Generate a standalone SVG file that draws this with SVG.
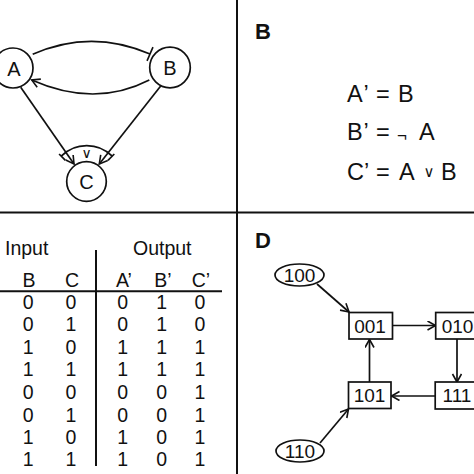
<svg xmlns="http://www.w3.org/2000/svg" width="474" height="474" viewBox="0 0 474 474">
<defs>
<marker id="arr" markerUnits="userSpaceOnUse" markerWidth="12" markerHeight="12" refX="9" refY="5" orient="auto">
<path d="M1,0.5 L9,5 L1,9.5" fill="none" stroke="#111" stroke-width="1.6"/>
</marker>
<marker id="bar" markerUnits="userSpaceOnUse" markerWidth="4" markerHeight="16" refX="2" refY="8" orient="auto">
<path d="M2,0.5 L2,15.5" fill="none" stroke="#111" stroke-width="1.6"/>
</marker>
<style>
text{font-family:"Liberation Sans",Arial,sans-serif;fill:#111}
.node{fill:#fff;stroke:#111;stroke-width:1.7}
.lbl{font-size:20px;text-anchor:middle}
.bx{font-size:19px;text-anchor:middle}
.eq{font-size:23.5px}
.tab{font-size:19.5px;text-anchor:middle}
.pl{font-size:22px;font-weight:bold}
.edge{fill:none;stroke:#111;stroke-width:1.7}
.grid{stroke:#111;stroke-width:2}
.sym{font-family:"DejaVu Sans",sans-serif;text-anchor:middle}
</style>
</defs>
<rect width="474" height="474" fill="#fff"/>
<g id="grid">
<line class="grid" x1="237" y1="0" x2="237" y2="474"/>
<line class="grid" x1="0" y1="212.5" x2="474" y2="212.5"/>
</g>
<g id="connectors">
<path class="edge" d="M32.7,54.3 Q91,28.5 150,54" marker-end="url(#bar)"/>
<path class="edge" d="M149.3,80 Q95,108 31.7,80" marker-end="url(#arr)"/>
<path class="edge" d="M20.7,87.3 L74,164" marker-end="url(#arr)"/>
<path class="edge" d="M160.7,86 L99.3,164" marker-end="url(#arr)"/>
<path class="edge" d="M61.2,156.2 A36,36 0 0 1 112.2,156.2"/>
<path class="edge" d="M59.1,154.0 L65.4,160.3"/>
<path class="edge" d="M114.3,154.0 L108.0,160.3"/>
<path class="edge" d="M317,284 L349,312" marker-end="url(#arr)"/>
<path class="edge" d="M392.5,325.5 L435.5,325.5" marker-end="url(#arr)"/>
<path class="edge" d="M457,339 L457,382" marker-end="url(#arr)"/>
<path class="edge" d="M435,396 L391.5,396" marker-end="url(#arr)"/>
<path class="edge" d="M369.5,382 L369.5,339.5" marker-end="url(#arr)"/>
<path class="edge" d="M320,443 L348.5,409" marker-end="url(#arr)"/>
</g>
<text class="sym" x="86.7" y="158" style="font-size:14px">∨</text>
<g id="nodeA"><circle class="node" cx="13" cy="68" r="20"/><text class="lbl" x="14" y="75.5">A</text></g>
<g id="nodeB"><circle class="node" cx="170" cy="67.5" r="20.3"/><text class="lbl" x="170" y="74.5">B</text></g>
<g id="nodeC"><circle class="node" cx="86.5" cy="181.5" r="19.8"/><text class="lbl" x="86.5" y="188.5">C</text></g>
<g id="panelB">
<text class="pl" x="255" y="38.5">B</text>
<text class="eq" y="102"><tspan x="347">A</tspan><tspan x="363.5">’</tspan><tspan x="376">=</tspan><tspan x="398">B</tspan></text>
<text class="eq" y="140"><tspan x="347">B</tspan><tspan x="363.5">’</tspan><tspan x="376">=</tspan><tspan x="419">A</tspan></text>
<text x="397" y="140.5" style="font-size:17px">¬</text>
<text class="eq" y="180"><tspan x="347">C</tspan><tspan x="364">’</tspan><tspan x="376">=</tspan><tspan x="399">A</tspan><tspan x="441">B</tspan></text>
<text class="sym" x="429" y="177" style="font-size:15px">∨</text>
</g>
<g id="table">
<text x="5" y="254.5" style="font-size:19.5px">Input</text>
<text x="133" y="254.5" style="font-size:19.5px">Output</text>
<text class="tab" x="29" y="287">B</text>
<text class="tab" x="72" y="287">C</text>
<text class="tab" x="124" y="287">A’</text>
<text class="tab" x="163" y="287">B’</text>
<text class="tab" x="201" y="287">C’</text>
<line class="grid" x1="0" y1="291.3" x2="222" y2="291.3"/>
<line class="grid" x1="96" y1="250" x2="96" y2="466"/>
<g>
<text class="tab" x="28.3" y="308.5">0</text><text class="tab" x="71" y="308.5">0</text><text class="tab" x="122.7" y="308.5">0</text><text class="tab" x="161.7" y="308.5">1</text><text class="tab" x="200" y="308.5">0</text>
<text class="tab" x="28.3" y="331">0</text><text class="tab" x="71" y="331">1</text><text class="tab" x="122.7" y="331">0</text><text class="tab" x="161.7" y="331">1</text><text class="tab" x="200" y="331">0</text>
<text class="tab" x="28.3" y="353.7">1</text><text class="tab" x="71" y="353.7">0</text><text class="tab" x="122.7" y="353.7">1</text><text class="tab" x="161.7" y="353.7">1</text><text class="tab" x="200" y="353.7">1</text>
<text class="tab" x="28.3" y="376">1</text><text class="tab" x="71" y="376">1</text><text class="tab" x="122.7" y="376">1</text><text class="tab" x="161.7" y="376">1</text><text class="tab" x="200" y="376">1</text>
<text class="tab" x="28.3" y="399">0</text><text class="tab" x="71" y="399">0</text><text class="tab" x="122.7" y="399">0</text><text class="tab" x="161.7" y="399">0</text><text class="tab" x="200" y="399">1</text>
<text class="tab" x="28.3" y="422">0</text><text class="tab" x="71" y="422">1</text><text class="tab" x="122.7" y="422">0</text><text class="tab" x="161.7" y="422">0</text><text class="tab" x="200" y="422">1</text>
<text class="tab" x="28.3" y="444">1</text><text class="tab" x="71" y="444">0</text><text class="tab" x="122.7" y="444">1</text><text class="tab" x="161.7" y="444">0</text><text class="tab" x="200" y="444">1</text>
<text class="tab" x="28.3" y="465.5">1</text><text class="tab" x="71" y="465.5">1</text><text class="tab" x="122.7" y="465.5">1</text><text class="tab" x="161.7" y="465.5">0</text><text class="tab" x="200" y="465.5">1</text>
</g>
</g>
<text class="pl" x="255" y="248">D</text>
<g id="n100"><ellipse class="node" cx="299.5" cy="275" rx="24.5" ry="11"/><text class="bx" x="299.5" y="282">100</text></g>
<g id="n001"><rect class="node" x="349" y="312.5" width="43.5" height="26.5"/><text class="bx" x="370" y="332.5">001</text></g>
<g id="n010"><rect class="node" x="435.7" y="312.5" width="44" height="26.5"/><text class="bx" x="457.5" y="332.5">010</text></g>
<g id="n101"><rect class="node" x="348.5" y="382" width="42.5" height="26.5"/><text class="bx" x="369.5" y="402">101</text></g>
<g id="n111"><rect class="node" x="435.2" y="382" width="44" height="27"/><text class="bx" x="457" y="402">111</text></g>
<g id="n110"><ellipse class="node" cx="300" cy="451" rx="24" ry="11"/><text class="bx" x="300" y="458">110</text></g>
</svg>
